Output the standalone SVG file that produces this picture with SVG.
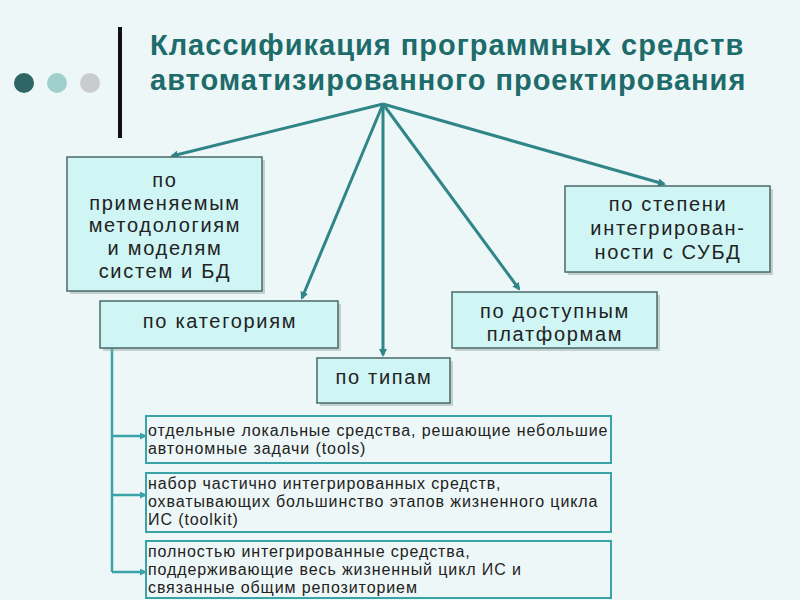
<svg xmlns="http://www.w3.org/2000/svg" width="800" height="600" viewBox="0 0 800 600">
<style>
text{font-family:"Liberation Sans",Arial,sans-serif;fill:#222}
.t{font-size:29px;font-weight:bold;fill:#1d6b6b;letter-spacing:1px}
.n{font-size:20px;text-anchor:middle;letter-spacing:1.7px}
.s{font-size:16px;letter-spacing:0.9px}
.bx{fill:#cff5f5;stroke:#4a6a6a;stroke-width:1.5}
.bs{fill:#9aa8a8;opacity:0.5}
.bb{fill:none;stroke:#3aa3a8;stroke-width:2}
.c{stroke:#2f8588;stroke-width:3;fill:none}
.c2{stroke:#3aa3a8;stroke-width:2.5;fill:none}
</style>
<defs>
<marker id="a" markerWidth="8" markerHeight="8" refX="6" refY="4" orient="auto" markerUnits="userSpaceOnUse"><path d="M0,0L8,4L0,8z" fill="#2f8588"/></marker>
<marker id="b" markerWidth="7" markerHeight="7" refX="5" refY="3.5" orient="auto" markerUnits="userSpaceOnUse"><path d="M0,0L7,3.5L0,7z" fill="#3aa3a8"/></marker>
</defs>
<rect width="800" height="600" fill="#eef7f7"/>
<circle cx="24" cy="83" r="10" fill="#2e6565"/>
<circle cx="57" cy="83" r="10" fill="#9fd0cc"/>
<circle cx="90" cy="83" r="10" fill="#c8cccc"/>
<rect x="118" y="27" width="4" height="111" fill="#111"/>
<text class="t" x="150" y="55">Классификация программных средств</text>
<text class="t" x="150" y="90">автоматизированного проектирования</text>
<g id="connectors">
<path class="c" d="M383,104L172,156" marker-end="url(#a)"/>
<path class="c" d="M383,104L302,298" marker-end="url(#a)"/>
<path class="c" d="M383,104L383,355" marker-end="url(#a)"/>
<path class="c" d="M383,104L519,289" marker-end="url(#a)"/>
<path class="c" d="M383,104L664,184" marker-end="url(#a)"/>
<path class="c2" d="M112,348V572"/>
<path class="c2" d="M112,436H145" marker-end="url(#b)"/>
<path class="c2" d="M112,495H145" marker-end="url(#b)"/>
<path class="c2" d="M112,572H145" marker-end="url(#b)"/>
</g>
<g id="n1"><rect class="bs" x="70" y="160" width="195" height="134"/><rect class="bx" x="67" y="157" width="195" height="134"/>
<text class="n" x="165" y="187">по</text><text class="n" x="165" y="210">применяемым</text><text class="n" x="165" y="232">методологиям</text><text class="n" x="165" y="255">и моделям</text><text class="n" x="165" y="278">систем и БД</text></g>
<g id="n2"><rect class="bs" x="103" y="304" width="238" height="47"/><rect class="bx" x="100" y="301" width="238" height="47"/>
<text class="n" x="220" y="328">по категориям</text></g>
<g id="n3"><rect class="bs" x="320" y="361" width="133" height="45"/><rect class="bx" x="317" y="358" width="133" height="45"/>
<text class="n" x="384" y="384">по типам</text></g>
<g id="n4"><rect class="bs" x="455" y="295" width="205" height="56"/><rect class="bx" x="452" y="292" width="205" height="56"/>
<text class="n" x="555" y="318">по доступным</text><text class="n" x="555" y="341">платформам</text></g>
<g id="n5"><rect class="bs" x="568" y="189" width="205" height="86"/><rect class="bx" x="565" y="186" width="205" height="86"/>
<text class="n" x="668" y="211">по степени</text><text class="n" x="668" y="235">интегрирован-</text><text class="n" x="668" y="259">ности с СУБД</text></g>
<g id="b1"><rect class="bb" x="146" y="416" width="465" height="47"/>
<text class="s" x="148" y="436">отдельные локальные средства, решающие небольшие</text><text class="s" x="148" y="454">автономные задачи (tools)</text></g>
<g id="b2"><rect class="bb" x="146" y="473" width="465" height="59"/>
<text class="s" x="148" y="489">набор частично интегрированных средств,</text><text class="s" x="148" y="507">охватывающих большинство этапов жизненного цикла</text><text class="s" x="148" y="525">ИС (toolkit)</text></g>
<g id="b3"><rect class="bb" x="146" y="541" width="465" height="57"/>
<text class="s" x="148" y="557">полностью интегрированные средства,</text><text class="s" x="148" y="575">поддерживающие весь жизненный цикл ИС и</text><text class="s" x="148" y="593">связанные общим репозиторием</text></g>
</svg>
